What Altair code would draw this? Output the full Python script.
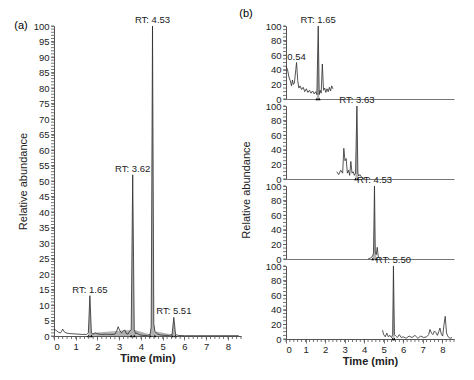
import altair as alt
import pandas as pd
import numpy as np

FONT = "Liberation Sans"
LINE = "#2b2b2b"
FILL = "#a8a8a8"
AX = "#555555"

# ---------- panel (a): total chromatogram ----------
A_TIME = [0, 0.1, 0.2, 0.3, 0.35, 0.4, 0.45, 0.55, 0.7, 0.9, 1.1, 1.3, 1.5, 1.58, 1.65, 1.72,
          1.8, 1.9, 2.0, 2.2, 2.4, 2.6, 2.8, 2.88, 2.95, 3.02, 3.1, 3.18, 3.25, 3.32, 3.4,
          3.48, 3.55, 3.62, 3.69, 3.75, 3.82, 3.9, 4.1, 4.3, 4.42, 4.47, 4.53, 4.59, 4.64,
          4.7, 4.78, 4.9, 5.1, 5.3, 5.43, 5.51, 5.59, 5.7, 6.0, 6.5, 7.0, 7.5, 8.0, 8.5]
A_ABUND = [2.2, 1.8, 1.2, 1.0, 1.5, 2.2, 1.5, 1.0, 0.8, 0.7, 0.6, 0.5, 0.5, 1.0, 13, 1.0,
           0.6, 1.0, 0.7, 0.5, 0.6, 0.5, 0.6, 1.5, 3.0, 1.8, 1.0, 1.5, 2.0, 0.8, 0.6,
           1.5, 2.0, 52, 2.0, 0.8, 1.0, 0.4, 0.2, 0.2, 0.5, 3, 100, 4, 1.5,
           1.0, 0.5, 0.3, 0.2, 0.2, 0.5, 6, 0.5, 0.2, 0.1, 0.1, 0.1, 0.1, 0.1, 0.1]
A_WIN_START = [1.58, 3.55, 4.42, 5.43]
A_WIN_END = [1.72, 3.69, 4.64, 5.59]
A_LAB_T = [1.65, 3.62, 4.53, 5.51]
A_LAB_Y = [13, 52, 100, 6]
A_LAB_TEXT = ["RT: 1.65", "RT: 3.62", "RT: 4.53", "RT: 5.51"]

# ---------- panel (b): extracted ion chromatograms ----------
B1_TIME = [0.00, 0.08, 0.15, 0.22, 0.28, 0.33, 0.38, 0.43, 0.50, 0.54, 0.60, 0.66, 0.72, 0.80,
           0.88, 0.96, 1.04, 1.12, 1.20, 1.28, 1.36, 1.44, 1.52, 1.58, 1.65, 1.70, 1.75, 1.80,
           1.86, 1.92, 1.98, 2.04, 2.10, 2.16, 2.22, 2.28, 2.34, 2.40]
B1_ABUND = [45, 40, 30, 25, 18, 26, 20, 22, 40, 50, 25, 15, 18, 13, 16, 10, 14, 9, 12, 8,
            11, 7, 10, 6, 100, 6, 12, 8, 48, 12, 15, 9, 14, 10, 16, 11, 18, 14]
B2_TIME = [2.60, 2.70, 2.80, 2.90, 2.96, 3.02, 3.08, 3.14, 3.20, 3.26, 3.32, 3.38, 3.44, 3.50,
           3.56, 3.63, 3.68, 3.72, 3.78, 3.85, 3.95, 4.05]
B2_ABUND = [10, 6, 12, 8, 42, 25, 28, 8, 12, 5, 24, 8, 10, 5, 8, 100, 8, 4, 6, 3, 1, 0]
B3_TIME = [4.20, 4.30, 4.38, 4.44, 4.48, 4.53, 4.57, 4.62, 4.67, 4.72, 4.78, 4.85]
B3_ABUND = [0, 1, 2, 5, 8, 100, 10, 6, 16, 4, 1, 0]
B4_TIME = [4.94, 5.00, 5.08, 5.16, 5.24, 5.32, 5.40, 5.46, 5.50, 5.55, 5.62, 5.70, 5.80, 5.90,
           6.00, 6.15, 6.30, 6.45, 6.60, 6.75, 6.90, 7.05, 7.20, 7.30, 7.37, 7.45, 7.52, 7.60,
           7.67, 7.75, 7.82, 7.88, 7.95, 8.02, 8.08, 8.15, 8.22, 8.30, 8.40, 8.50]
B4_ABUND = [12, 6, 3, 8, 3, 5, 2, 6, 100, 6, 4, 2, 6, 2, 3, 1, 4, 2, 5, 1, 4, 2, 3, 6, 13, 8,
            6, 11, 9, 5, 10, 15, 7, 4, 18, 31, 8, 3, 1, 2]
B_WIN_START = [1.58, 3.56, 4.44, 5.46]
B_WIN_END = [1.70, 3.68, 4.62, 5.55]
B_LAB_T = [[0.54, 1.65], [3.63], [4.53], [5.50]]
B_LAB_Y = [[50, 100], [100], [100], [100]]
B_LAB_TEXT = [["0.54", "RT: 1.65"], ["RT: 3.63"], ["RT: 4.53"], ["RT: 5.50"]]

XMAX = 8.6


def peak_fill(times, vals, starts, ends):
    rows = []
    for k, (s, e) in enumerate(zip(starts, ends)):
        for t, v in zip(times, vals):
            if s <= t <= e:
                rows.append({"t": t, "y": v, "pk": k})
    return pd.DataFrame(rows)


def base_marks(starts, ends):
    return pd.DataFrame({"t": list(starts) + list(ends), "y": [0] * (len(starts) + len(ends))})


def make_panel(times, vals, starts, ends, lt, ly, ltxt, width, height, ymajor, yminor_step,
               show_x, ytitle=None, ytitle_y=None, corner=None, corner_xy=None):
    df = pd.DataFrame({"t": times, "y": vals})
    xs = alt.Scale(domain=[0, XMAX], nice=False, zero=False)
    ys = alt.Scale(domain=[0, 100], nice=False)
    if show_x:
        xaxis = alt.Axis(values=list(range(0, 9)), title="Time (min)", titleFontWeight="bold",
                         titleFontSize=11, titleFont=FONT, titlePadding=2, tickSize=4,
                         labelPadding=1, grid=False, labelOverlap=False)
    else:
        xaxis = alt.Axis(labels=False, ticks=False, title=None, grid=False,
                         domainColor="#777777", domainWidth=1.2)
    yargs = dict(values=ymajor, tickSize=3, labelPadding=2, grid=False, labelOverlap=False,
                 labelBound=False)
    if ytitle:
        yargs.update(title=ytitle, titleFontSize=11, titleFont=FONT, titleFontWeight="normal")
        if ytitle_y is not None:
            yargs.update(titleY=ytitle_y, titleX=-35, titleAngle=-90, titleAlign="center",
                         titleBaseline="bottom")
        else:
            yargs.update(titlePadding=5)
    else:
        yargs.update(title=None)
    yaxis = alt.Axis(**yargs)

    def X(f):
        return alt.X(f, scale=xs, axis=xaxis)

    def Y(f):
        return alt.Y(f, scale=ys, axis=yaxis)

    line = alt.Chart(df).mark_line(color=LINE, strokeWidth=0.8, interpolate="linear").encode(
        x=X("t:Q"), y=Y("y:Q"))
    fill = alt.Chart(peak_fill(times, vals, starts, ends)).mark_area(
        color=FILL, opacity=0.9).encode(x=X("t:Q"), y=Y("y:Q"), detail="pk:N")
    marks = alt.Chart(base_marks(starts, ends)).mark_point(
        shape="triangle-up", filled=True, color="black", size=8, opacity=1).encode(
        x=X("t:Q"), y=Y("y:Q"))
    lab = alt.Chart(pd.DataFrame({"t": lt, "y": ly, "txt": ltxt})).mark_text(
        font=FONT, fontSize=9.5, baseline="bottom", dy=-1, color="#222222").encode(
        x=X("t:Q"), y=Y("y:Q"), text="txt:N")
    # minor ticks
    ymin = pd.DataFrame({"y": np.arange(0, 100.1, yminor_step)})
    yminor = alt.Chart(ymin).mark_tick(orient="horizontal", size=3, thickness=0.8,
                                       color=AX, xOffset=-1.5, opacity=1).encode(
        y=Y("y:Q"), x=alt.value(0))
    layers = [fill, line, marks, lab, yminor]
    if show_x:
        xmin = pd.DataFrame({"t": np.arange(0, XMAX + 0.001, 0.2)})
        xminor = alt.Chart(xmin).mark_tick(orient="vertical", size=3, thickness=0.8,
                                           color=AX, yOffset=1.5, opacity=1).encode(
            x=X("t:Q"), y=alt.value(height))
        layers.append(xminor)
    if corner:
        ctext = alt.Chart(pd.DataFrame({"c": [corner]})).mark_text(
            font=FONT, fontSize=11, align="center", baseline="middle", color="black").encode(
            text="c:N", x=alt.value(corner_xy[0]), y=alt.value(corner_xy[1]))
        layers.append(ctext)
    return alt.layer(*layers).properties(width=width, height=height)


panel_a = make_panel(A_TIME, A_ABUND, A_WIN_START, A_WIN_END, A_LAB_T, A_LAB_Y, A_LAB_TEXT,
                     187, 310, list(range(0, 101, 5)), 1, True,
                     ytitle="Relative abundance", corner="(a)", corner_xy=(-33, 0))

B_TIMES = [B1_TIME, B2_TIME, B3_TIME, B4_TIME]
B_VALS = [B1_ABUND, B2_ABUND, B3_ABUND, B4_ABUND]
b_panels = []
for i in range(4):
    b_panels.append(make_panel(
        B_TIMES[i], B_VALS[i], [B_WIN_START[i]], [B_WIN_END[i]], B_LAB_T[i], B_LAB_Y[i],
        B_LAB_TEXT[i], 168, 73, list(range(0, 101, 20)), 5, i == 3,
        ytitle="Relative abundance" if i == 1 else None,
        ytitle_y=83.5 if i == 1 else None,
        corner="(b)" if i == 0 else None, corner_xy=(-40, -12)))

panel_b = alt.vconcat(*b_panels, spacing=7, bounds="flush")

chart = alt.hconcat(panel_a, panel_b, spacing=45, bounds="flush").properties(
    padding={"left": 6, "top": 0, "right": 2, "bottom": 2}
).configure_view(stroke=None).configure_axis(
    labelFont=FONT, labelFontSize=9.5, labelColor="#222222", domainColor=AX, tickColor=AX,
    titleColor="#222222", domainWidth=1, tickWidth=0.8
)

chart.save("out.html", embed_options={"renderer": "svg", "actions": False})
